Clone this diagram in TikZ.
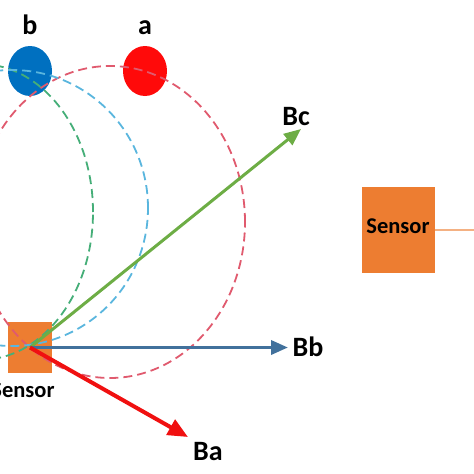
\documentclass[tikz,border=0pt]{standalone}
\usepackage{fontspec}
\setmainfont{Carlito}
\usetikzlibrary{arrows.meta,
	shapes.geometric,
	positioning}
\definecolor{magblue}{HTML}{0070C0}
\definecolor{magred}{HTML}{FF0A0A}
\definecolor{sensorange}{HTML}{ED7D31}
\definecolor{wireorange}{HTML}{F4B183}
\definecolor{vecgreen}{HTML}{6DAD45}
\definecolor{vecblue}{HTML}{41719C}
\definecolor{vecred}{HTML}{F01010}
\definecolor{fieldred}{HTML}{E05A6E}
\definecolor{fieldgreen}{HTML}{45AE78}
\definecolor{fieldcyan}{HTML}{5AB6DE}
\tikzstyle{magnet}=[ellipse, inner sep=0, minimum width=44pt, minimum height=50pt]
\tikzstyle{sensor}=[fill=sensorange, inner sep=0]
\tikzstyle{lbl}=[font=\bfseries\fontsize{28}{28}\selectfont, inner sep=0, anchor=base]
\tikzstyle{senslbl}=[font=\bfseries\fontsize{22.5}{22.5}\selectfont, inner sep=0, anchor=base]
\tikzstyle{field}=[line width=1.8pt, dash pattern=on 9pt off 5pt]
\tikzstyle{vec}=[line width=3pt, -{Triangle[length=17pt,width=14pt]}]

\begin{document}
\begin{tikzpicture}[x=1pt,y=-1pt]
	\useasboundingbox (0,0) rectangle (474,474);
	\clip (0,0) rectangle (474,474);
	% magnets
	\node[magnet, fill=magblue] (magB) at (30,71) {};
	\node[magnet, fill=magred] (magA) at (145,71) {};
	\node[lbl] (labB) at (30,34) {b};
	\node[lbl] (labA) at (145,34) {a};
	% sensors
	\node[sensor, minimum width=44pt, minimum height=51pt] (sensS) at (30,347.5) {};
	\node[sensor, minimum width=73pt, minimum height=86pt] (sensL) at (398.5,230) {};
	\node[senslbl] (sensStxt) at (23,397) {Sensor};
	\node[senslbl] (sensLtxt) at (398,233) {Sensor};
	\coordinate (wireEnd) at (474,230);
	\draw[wireorange, line width=1.2pt] (sensL.east) -- (wireEnd);
	% field lines
	\draw[field, fieldred] (110,222) ellipse [x radius=135pt, y radius=156pt];
	\draw[field, fieldgreen] (-20,212) ellipse [x radius=113pt, y radius=148pt];
	\draw[field, fieldcyan] (12,208) ellipse [x radius=136pt, y radius=138pt];
	% field vectors
	\coordinate (tipC) at (301,129);
	\coordinate (tipB) at (288,347.5);
	\coordinate (tipA) at (188,437);
	\draw[vec, vecgreen] (sensS.center) -- (tipC);
	\draw[vec, vecblue, line width=3.5pt] (sensS.center) -- (tipB);
	\draw[vec, vecred, line width=4pt, -{Triangle[length=20pt,width=17pt]}] (sensS.center) -- (tipA);
	\node[lbl] (labC) at (296,125) {Bc};
	\node[lbl] (labBb) at (308,356) {Bb};
	\node[lbl] (labBa) at (208,460) {Ba};
\end{tikzpicture}
\end{document}
